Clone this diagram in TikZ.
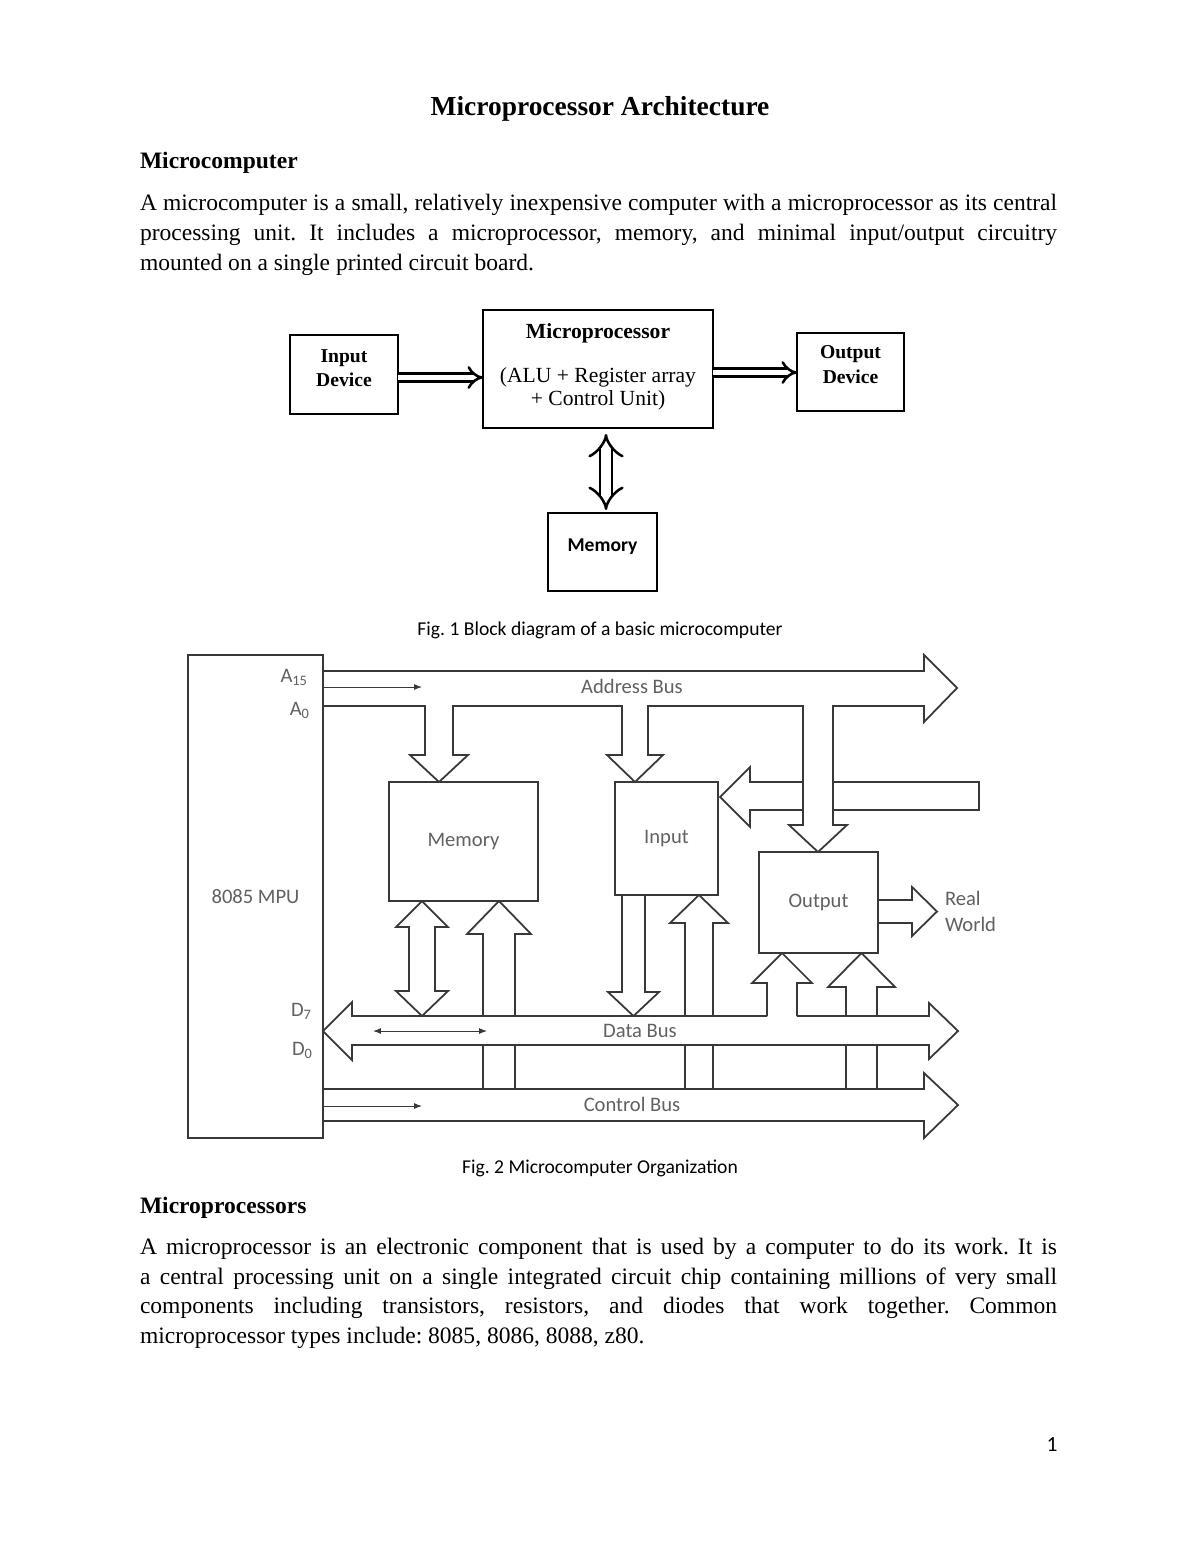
\documentclass[tikz,border=0pt]{standalone}
\usepackage{fontspec}
\setmainfont{Liberation Serif}
\newfontfamily\calfont{Carlito}
\usetikzlibrary{arrows.meta}
\frenchspacing
\begin{document}
\begin{tikzpicture}[x=0.51pt,y=-0.51pt,
  txt/.style={inner sep=0pt, outer sep=0pt},
  para/.style={txt, anchor=base west, font=\fontsize{12}{15}\selectfont},
  headtxt/.style={txt, anchor=base west, font=\bfseries\fontsize{12}{15}\selectfont},
  f1box/.style={draw, line width=1.3pt, inner sep=0pt, outer sep=0pt},
  f1b/.style={txt, anchor=base, font=\bfseries\fontsize{10}{12}\selectfont},
  f1t/.style={txt, anchor=base, font=\fontsize{11}{13}\selectfont},
  dblh/.style={double, double distance=2.6pt, line width=1.3pt, -{Implies}},
  dblv/.style={double, double distance=5pt, line width=1.3pt, {Implies}-{Implies}},
  figcap/.style={txt, anchor=base, font=\calfont\fontsize{10}{12}\selectfont},
  f2line/.style={draw=black!78, line width=0.9pt, line join=miter},
  f2box/.style={draw=black!78, line width=0.9pt, inner sep=0pt, outer sep=0pt,
    font=\calfont\fontsize{10.5}{12}\selectfont, text=black!62},
  f2txt/.style={txt, font=\calfont\fontsize{10.5}{12}\selectfont, text=black!62},
  thinarr/.style={draw=black!78, line width=0.5pt, -{Latex[length=4pt,width=3pt]}},
  thinarr2/.style={draw=black!78, line width=0.5pt, {Latex[length=4pt,width=3pt]}-{Latex[length=4pt,width=3pt]}}
]
\useasboundingbox (0,0) rectangle (1200,1553);
\fill[white] (0,0) rectangle (1200,1553);

% ---------- text ----------
\node[txt, anchor=base, font=\bfseries\fontsize{14}{16}\selectfont] (title) at (600,116) {Microprocessor Architecture};
\node[headtxt] (h1) at (140,169) {Microcomputer};
\node[para] (p1a) at (140,211) {\makebox[467.7pt][s]{A microcomputer is a small, relatively inexpensive computer with a microprocessor as its central}};
\node[para] (p1b) at (140,241) {\makebox[467.7pt][s]{processing unit. It includes a microprocessor, memory, and minimal input/output circuitry}};
\node[para] (p1c) at (140,270) {mounted on a single printed circuit board.};

% ---------- Fig 1 ----------
\node[f1box, minimum width=108*0.51pt, minimum height=79*0.51pt] (inp) at (344,374.5) {};
\node[f1box, minimum width=230*0.51pt, minimum height=118*0.51pt] (micro) at (598,369) {};
\node[f1box, minimum width=107*0.51pt, minimum height=78*0.51pt] (outp) at (850.5,372) {};
\node[f1box, minimum width=109*0.51pt, minimum height=78*0.51pt] (mem1) at (602.5,552) {};

\node[f1b] (inpa) at (344,362) {Input};
\node[f1b] (inpb) at (344,386) {Device};
\node[f1t, font=\bfseries\fontsize{11}{13}\selectfont] (mica) at (598,338) {Microprocessor};
\node[f1t] (micb) at (598,382) {(ALU + Register array};
\node[f1t] (micc) at (598,405) {+ Control Unit)};
\node[f1b] (outa) at (850.5,358) {Output};
\node[f1b] (outb2) at (850.5,383) {Device};
\node[txt, anchor=base, font=\calfont\bfseries\fontsize{10}{12}\selectfont] (mema) at (602.5,551) {Memory};

\coordinate (a1) at (0,377.5);
\draw[dblh] (inp.east |- a1) -- (micro.west |- a1);
\coordinate (a2) at (0,372.5);
\draw[dblh] (micro.east |- a2) -- (outp.west |- a2);
\coordinate (a3) at (606,0);
\draw[dblv, shorten <=3pt, shorten >=1.5pt] (micro.south -| a3) -- (mem1.north -| a3);

\node[figcap] (cap1) at (600,635) {Fig. 1 Block diagram of a basic microcomputer};

% ---------- Fig 2 ----------
\node[f2box, minimum width=135*0.51pt, minimum height=483*0.51pt] (mpu) at (255.5,896.5) {8085 MPU};
\node[f2box, minimum width=149*0.51pt, minimum height=119*0.51pt] (memb) at (463.5,841.5) {Memory};
\node[f2box, minimum width=103*0.51pt, minimum height=113*0.51pt] (inb) at (666.5,838.5) {Input};
\node[f2box, minimum width=119*0.51pt, minimum height=101*0.51pt] (outbx) at (818.5,902.5) {Output};

% address bus
\draw[f2line] (323,671) -- (924,671) -- (924,655) -- (957,688) -- (924,722) -- (924,706)
  -- (833,706) -- (833,825) -- (847,825) -- (818,852) -- (789,825) -- (803,825) -- (803,706)
  -- (648,706) -- (648,755) -- (663,755) -- (635,782) -- (607,755) -- (622,755) -- (622,706)
  -- (453,706) -- (453,755) -- (468,755) -- (439,782) -- (410,755) -- (425,755) -- (425,706)
  -- (323,706);
% external input band
\draw[f2line] (803,782) -- (750,782) -- (750,767) -- (720,797) -- (750,827) -- (750,810) -- (803,810);
\draw[f2line] (833,782) -- (979,782) -- (979,810) -- (833,810);
% data bus
\draw[f2line] (767,1016) -- (352,1016) -- (352,1002) -- (323,1031) -- (352,1060) -- (352,1045)
  -- (929,1045) -- (929,1059) -- (958,1031) -- (929,1003) -- (929,1016) -- (797,1016);
% control bus
\draw[f2line] (323,1089) -- (924,1089) -- (924,1073) -- (958,1105) -- (924,1138) -- (924,1121) -- (323,1121);
% memory <-> data bus
\draw[f2line] (422,901) -- (448,927) -- (435,927) -- (435,991) -- (448,991) -- (422,1016)
  -- (396,991) -- (409,991) -- (409,927) -- (396,927) -- cycle;
% control -> memory
\draw[f2line] (483,1016) -- (483,934) -- (467,934) -- (499,901) -- (531,934) -- (515,934) -- (515,1016);
\draw[f2line] (483,1045) -- (483,1089) (515,1045) -- (515,1089);
% input -> data bus
\draw[f2line] (622,895) -- (622,992) -- (608,992) -- (633.5,1016) -- (659,992) -- (645,992) -- (645,895);
% control -> input
\draw[f2line] (685,1016) -- (685,923) -- (670,923) -- (699,895) -- (728,923) -- (713,923) -- (713,1016);
\draw[f2line] (685,1045) -- (685,1089) (713,1045) -- (713,1089);
% data bus -> output
\draw[f2line] (767,1016) -- (767,983) -- (752,983) -- (782,953) -- (812,983) -- (797,983) -- (797,1016);
% control -> output
\draw[f2line] (846,1016) -- (846,987) -- (828,987) -- (861.5,953) -- (895,987) -- (877,987) -- (877,1016);
\draw[f2line] (846,1045) -- (846,1089) (877,1045) -- (877,1089);
% real world
\draw[f2line] (878,900) -- (912,900) -- (912,887) -- (937,911.5) -- (912,936) -- (912,923) -- (878,923);

% small direction arrows
\coordinate (sa1) at (323,687); \coordinate (sa2) at (422,687);
\draw[thinarr] (sa1) -- (sa2);
\coordinate (sd1) at (373,1031); \coordinate (sd2) at (487,1031);
\draw[thinarr2] (sd1) -- (sd2);
\coordinate (sc1) at (323,1106); \coordinate (sc2) at (422,1106);
\draw[thinarr] (sc1) -- (sc2);

% labels
\node[f2txt, anchor=base] (ab) at (632,693) {Address Bus};
\node[f2txt, anchor=base] (dbl) at (640,1037) {Data Bus};
\node[f2txt, anchor=base] (cbl) at (632,1111) {Control Bus};
\node[f2txt, anchor=base west] (rw1) at (945,905) {Real};
\node[f2txt, anchor=base west] (rw2) at (945,931) {World};
\node[f2txt, anchor=base east] (la15) at (308,682) {A\textsubscript{15}};
\node[f2txt, anchor=base east] (la0) at (310,715) {A\textsubscript{0}};
\node[f2txt, anchor=base east] (ld7) at (312,1016) {D\textsubscript{7}};
\node[f2txt, anchor=base east] (ld0) at (313,1055) {D\textsubscript{0}};

\node[figcap] (cap2) at (600,1173) {Fig. 2 Microcomputer Organization};

% ---------- second section ----------
\node[headtxt] (h2) at (140,1213) {Microprocessors};
\node[para] (p2a) at (140,1254) {\makebox[467.7pt][s]{A microprocessor is an electronic component that is used by a computer to do its work. It is}};
\node[para] (p2b) at (140,1284) {\makebox[467.7pt][s]{a central processing unit on a single integrated circuit chip containing millions of very small}};
\node[para] (p2c) at (140,1313) {\makebox[467.7pt][s]{components including transistors, resistors, and diodes that work together. Common}};
\node[para] (p2d) at (140,1343) {microprocessor types include: 8085, 8086, 8088, z80.};

\node[txt, anchor=base, font=\calfont\fontsize{11}{13}\selectfont] (pg) at (1052,1451) {1};
\end{tikzpicture}
\end{document}
